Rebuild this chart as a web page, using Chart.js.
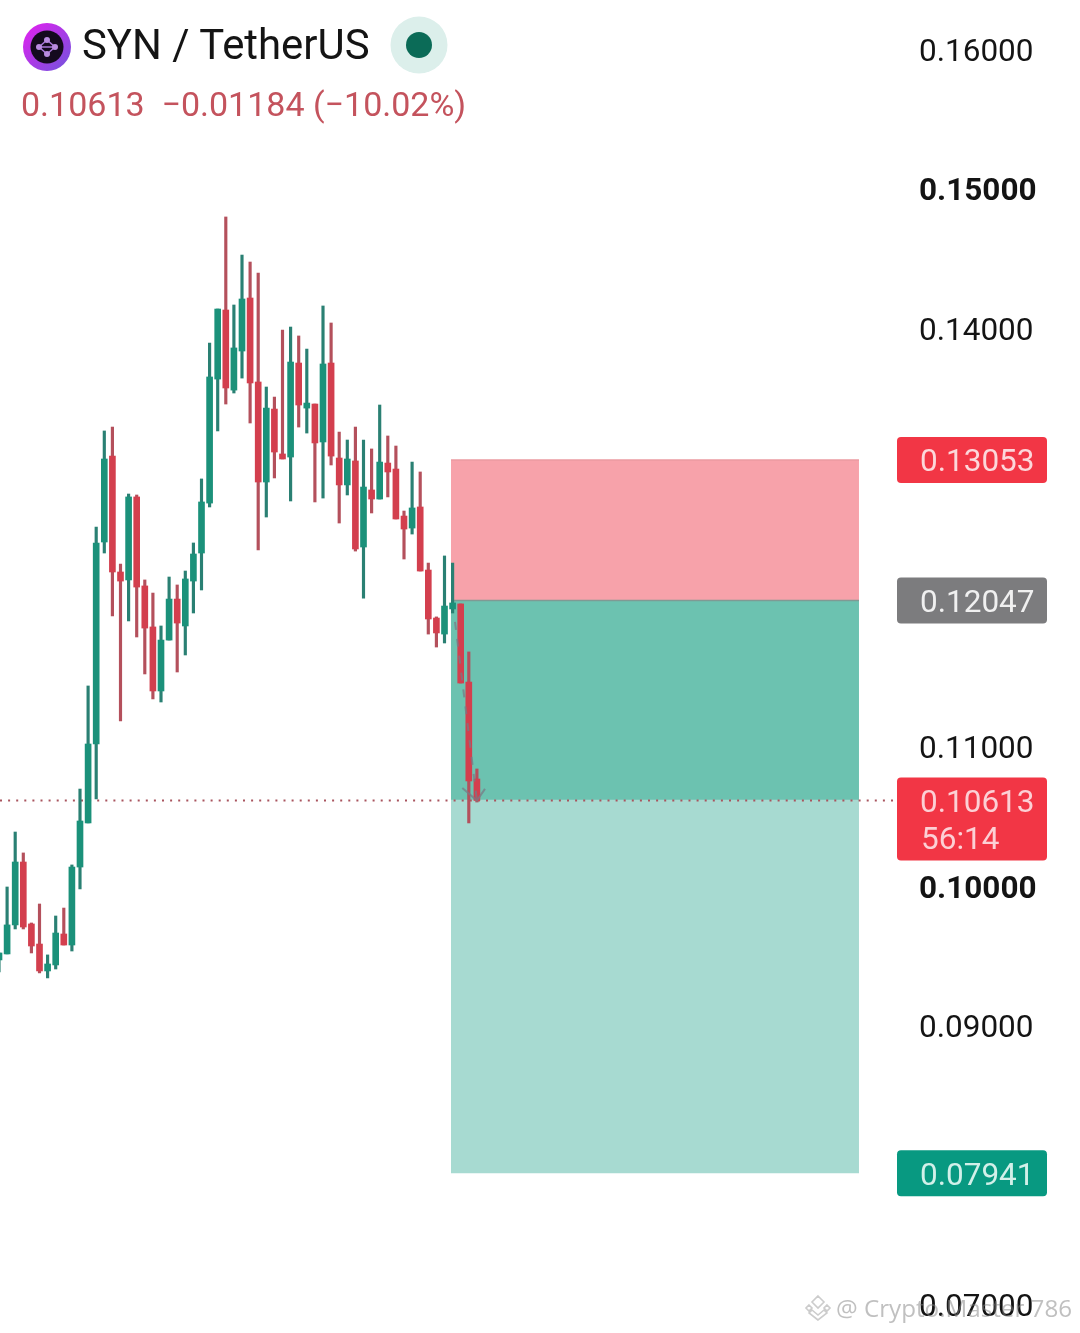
<!DOCTYPE html>
<html>
<head>
<meta charset="utf-8">
<title>SYN / TetherUS</title>
<script src="https://cdn.jsdelivr.net/npm/chart.js@4"></script>
<style>
	html, body { margin: 0; padding: 0; background: #fff; }
	#wrap { position: relative; width: 1080px; height: 1333px; overflow: hidden; font-family: Roboto, sans-serif; }
	#price-chart { position: absolute; left: 0; top: 0; }
	.txt { position: absolute; white-space: pre; }
	#title { left: 82px; top: 21px; font-size: 41.9px; line-height: 48px; color: #141414; }
	#quote { left: 21px; top: 84px; font-size: 34px; line-height: 40px; color: #c4535d; }
	#mark { left: 836px; top: 1291px; font-family: "Open Sans", sans-serif; font-size: 24.2px; line-height: 34px; color: rgba(130,130,130,.5); }
	svg { position: absolute; }
</style>
</head>
<body>
<div id="wrap">
	<canvas id="price-chart" width="1080" height="1333" style="width:1080px;height:1333px"></canvas>
	<svg style="left:20px;top:20px" width="54" height="54" viewBox="0 0 54 54">
		<defs><linearGradient id="g" x1="0" y1="0" x2="1" y2="1"><stop offset="0" stop-color="#e61ff0"/><stop offset="1" stop-color="#6f55dc"/></linearGradient></defs>
		<circle cx="27" cy="27" r="24" fill="url(#g)"/>
		<circle cx="27" cy="27" r="16.5" fill="#140a1e"/>
		<path d="M19 27L27 20L35 27L27 34ZM19 27H35" stroke="#a878d8" stroke-width="1.5" fill="none"/>
		<circle cx="19" cy="27" r="3" fill="#b98be0"/><circle cx="35" cy="27" r="3" fill="#b98be0"/>
		<circle cx="27" cy="20" r="3" fill="#b98be0"/><circle cx="27" cy="34" r="3" fill="#b98be0"/>
	</svg>
	<svg style="left:390px;top:16px" width="58" height="58" viewBox="0 0 58 58">
		<circle cx="29" cy="29" r="28.5" fill="#dcefeb"/>
		<circle cx="29" cy="29" r="13" fill="#0b6b57"/>
	</svg>
	<div class="txt" id="title">SYN / TetherUS</div>
	<div class="txt" id="quote">0.10613  −0.01184 (−10.02%)</div>
	<svg style="left:803px;top:1293px;opacity:.4" width="30" height="30" viewBox="0 0 30 30">
		<path d="M15 3L21 9L15 15L9 9ZM6 12L9 15L6 18L3 15ZM24 12L27 15L24 18L21 15ZM15 27L6 20L9 17L15 22L21 17L24 20Z" fill="none" stroke="#808080" stroke-width="1.6"/>
	</svg>
	<div class="txt" id="mark">@ Crypto.Master 786</div>
</div>
<script>
const opens = [0.0947, 0.09513, 0.09721, 0.10172, 0.09728, 0.09584, 0.09391, 0.09434, 0.09656, 0.09577,
	0.10136, 0.10452, 0.11018, 0.12466, 0.13082, 0.12251, 0.12194, 0.12789, 0.12151, 0.11857,
	0.11398, 0.11763, 0.12057, 0.11864, 0.12186, 0.12387, 0.12745, 0.13634, 0.14129, 0.13555,
	0.13835, 0.14215, 0.13613, 0.12896, 0.13419, 0.13097, 0.13075, 0.13749, 0.13426, 0.13455,
	0.13183, 0.13749, 0.13068, 0.12875, 0.13047, 0.1243, 0.12839, 0.12774, 0.13032, 0.12989,
	0.12652, 0.12566, 0.12717, 0.12265, 0.11921, 0.11806, 0.11986, 0.12022, 0.11462, 0.10767];
const highs = [0.0952, 0.09993, 0.10387, 0.10237, 0.09735, 0.09871, 0.09506, 0.09785, 0.09842, 0.10151,
	0.10695, 0.11434, 0.12573, 0.13262, 0.1329, 0.12308, 0.1281, 0.12803, 0.12194, 0.121,
	0.11864, 0.12215, 0.12158, 0.12258, 0.12459, 0.12918, 0.13892, 0.14136, 0.14796, 0.14165,
	0.14523, 0.14473, 0.14394, 0.13577, 0.13505, 0.13986, 0.14007, 0.13943, 0.13849, 0.13455,
	0.14158, 0.14036, 0.13254, 0.13197, 0.1329, 0.13197, 0.13133, 0.13448, 0.13226, 0.13154,
	0.12688, 0.13039, 0.12968, 0.12315, 0.11929, 0.12366, 0.12315, 0.12022, 0.11678, 0.10839];
const lows = [0.09384, 0.09513, 0.09692, 0.09692, 0.0952, 0.09377, 0.09341, 0.09405, 0.09577, 0.09534,
	0.09979, 0.10452, 0.10624, 0.12387, 0.11936, 0.11183, 0.119, 0.11785, 0.1152, 0.11341,
	0.11319, 0.11763, 0.11534, 0.11656, 0.11957, 0.12122, 0.12717, 0.13262, 0.13455, 0.13534,
	0.13641, 0.13319, 0.12409, 0.12645, 0.12925, 0.13061, 0.1276, 0.1329, 0.13247, 0.12753,
	0.12781, 0.13018, 0.12602, 0.12803, 0.12401, 0.12064, 0.12674, 0.12774, 0.12789, 0.12631,
	0.12344, 0.12523, 0.12258, 0.11806, 0.11713, 0.11742, 0.11957, 0.11455, 0.10452, 0.10602];
const closes = [0.0952, 0.09721, 0.10172, 0.09706, 0.0957, 0.09391, 0.09441, 0.09663, 0.09577, 0.10136,
	0.10466, 0.11018, 0.12459, 0.13061, 0.12251, 0.12186, 0.12789, 0.12143, 0.11849, 0.11398,
	0.11763, 0.12057, 0.11885, 0.12201, 0.1238, 0.12753, 0.13649, 0.14136, 0.1357, 0.13857,
	0.14208, 0.13606, 0.12896, 0.13426, 0.13111, 0.13061, 0.13756, 0.13448, 0.13462, 0.13176,
	0.13742, 0.13082, 0.12875, 0.13061, 0.12416, 0.1286, 0.12774, 0.13039, 0.12968, 0.12631,
	0.12559, 0.1271, 0.12258, 0.11914, 0.11814, 0.12007, 0.12029, 0.11455, 0.10753, 0.10613];

const tickValues = [0.16, 0.15, 0.14, 0.11, 0.1, 0.09, 0.07];
const boldTicks = [0.15, 0.1];

const stopPrice = 0.13053;
const entryPrice = 0.12047;
const lastPrice = 0.10613;
const targetPrice = 0.07941;
const countdown = "56:14";

const zoneStart = 55.8;
const zoneEnd = 106.17;
const lastLineEnd = 110.4;

const arrowX = [56.3, 59];
const arrowY = [0.11893, 0.10613];
const headX = [57.2, 59, 60];
const headY = [0.10703, 0.10613, 0.10696];

const xMin = 0.1235;
const xMax = 113.58;
const yMin = 0.067957;
const yMax = 0.163513;

const up = "#1b917a";
const upWick = "#2a8073";
const down = "#d33f4e";
const downWick = "#b4505c";

const idx = opens.map((_, i) => i);
const isUp = idx.map((i) => closes[i] >= opens[i]);

function zone(top, bottom, fillColor, lineColor, order) {
	return {
		type: "line",
		data: [{ x: zoneStart, y: top }, { x: zoneEnd, y: top }],
		fill: { value: bottom },
		backgroundColor: fillColor,
		borderColor: lineColor,
		borderWidth: 1.5,
		pointRadius: 0,
		order: order,
	};
}

// price tags on the right side
const priceTags = {
	id: "priceTags",
	afterDraw(chart) {
		const c = chart.ctx;
		const y = chart.scales.y;
		const tag = (price, bg, fg, extra) => {
			const py = y.getPixelForValue(price);
			c.fillStyle = bg;
			c.beginPath();
			c.roundRect(897, py - 23, 150, extra ? 83 : 46, 4);
			c.fill();
			c.fillStyle = fg;
			c.font = "31.5px Roboto";
			c.textAlign = "left";
			c.textBaseline = "middle";
			c.fillText(price.toFixed(5), 920, py + 3.5);
			if (extra) c.fillText(extra, 921, py + 41);
		};
		tag(stopPrice, "#f23645", "#fcd7da");
		tag(entryPrice, "#7c7c7e", "#f0f0f0");
		tag(lastPrice, "#f23645", "#fcd0d5", countdown);
		tag(targetPrice, "#089981", "#d2f0e9");
	},
};

const ctx = document.getElementById("price-chart").getContext("2d");
const myChart = new Chart(ctx, {
	type: "bar",
	data: {
		datasets: [
			zone(stopPrice, entryPrice, "#f7a2aa", "#eb9aa1", 12),
			zone(entryPrice, lastPrice, "#6cc2b0", "#7f9a94", 11),
			zone(lastPrice, targetPrice, "#a7dad1", "#a7dad1", 10),
			{
				type: "line",
				data: [{ x: xMin, y: lastPrice }, { x: lastLineEnd, y: lastPrice }],
				borderColor: "#a9545e",
				borderWidth: 2,
				borderDash: [2, 6.1],
				pointRadius: 0,
				order: 4,
			},
			{
				type: "bar",
				data: idx.map((i) => ({ x: i, y: [lows[i], highs[i]] })),
				backgroundColor: idx.map((i) => (isUp[i] ? upWick : downWick)),
				barThickness: 2.5,
				grouped: false,
				order: 3,
			},
			{
				type: "bar",
				data: idx.map((i) => ({ x: i, y: [Math.min(opens[i], closes[i]), Math.max(opens[i], closes[i])] })),
				backgroundColor: idx.map((i) => (isUp[i] ? up : down)),
				barThickness: 6,
				grouped: false,
				order: 2,
			},
			{
				type: "line",
				data: arrowX.map((x, i) => ({ x: x, y: arrowY[i] })),
				borderColor: "rgba(120,123,134,0.75)",
				borderWidth: 2,
				borderDash: [8, 9],
				pointRadius: 0,
				order: 1,
			},
			{
				type: "line",
				data: headX.map((x, i) => ({ x: x, y: headY[i] })),
				borderColor: "rgba(120,123,134,0.75)",
				borderWidth: 2,
				pointRadius: 0,
				order: 1,
			},
		],
	},
	plugins: [priceTags],
	options: {
		responsive: false,
		animation: false,
		layout: { padding: 0, autoPadding: false },
		scales: {
			x: {
				type: "linear",
				display: false,
				offset: false,
				min: xMin,
				max: xMax,
			},
			y: {
				position: "right",
				min: yMin,
				max: yMax,
				grid: { display: false, drawTicks: false },
				border: { display: false },
				afterFit(scale) {
					scale.width = 161;
					scale.paddingTop = 0;
					scale.paddingBottom = 0;
				},
				afterBuildTicks(scale) {
					scale.ticks = tickValues.map((v) => ({ value: v }));
				},
				ticks: {
					padding: 0,
					autoSkip: false,
					maxRotation: 0,
					color: "#141414",
					font(c) {
						const bold = c.tick && boldTicks.includes(c.tick.value);
						return { family: "Roboto", size: 31.5, lineHeight: "8px", weight: bold ? "bold" : "normal" };
					},
					// empty first line pushes the label down a little
					callback: (v) => ["", Number(v).toFixed(5)],
				},
			},
		},
		plugins: {
			legend: { display: false },
			tooltip: { enabled: false },
		},
	},
});
</script>
</body>
</html>
